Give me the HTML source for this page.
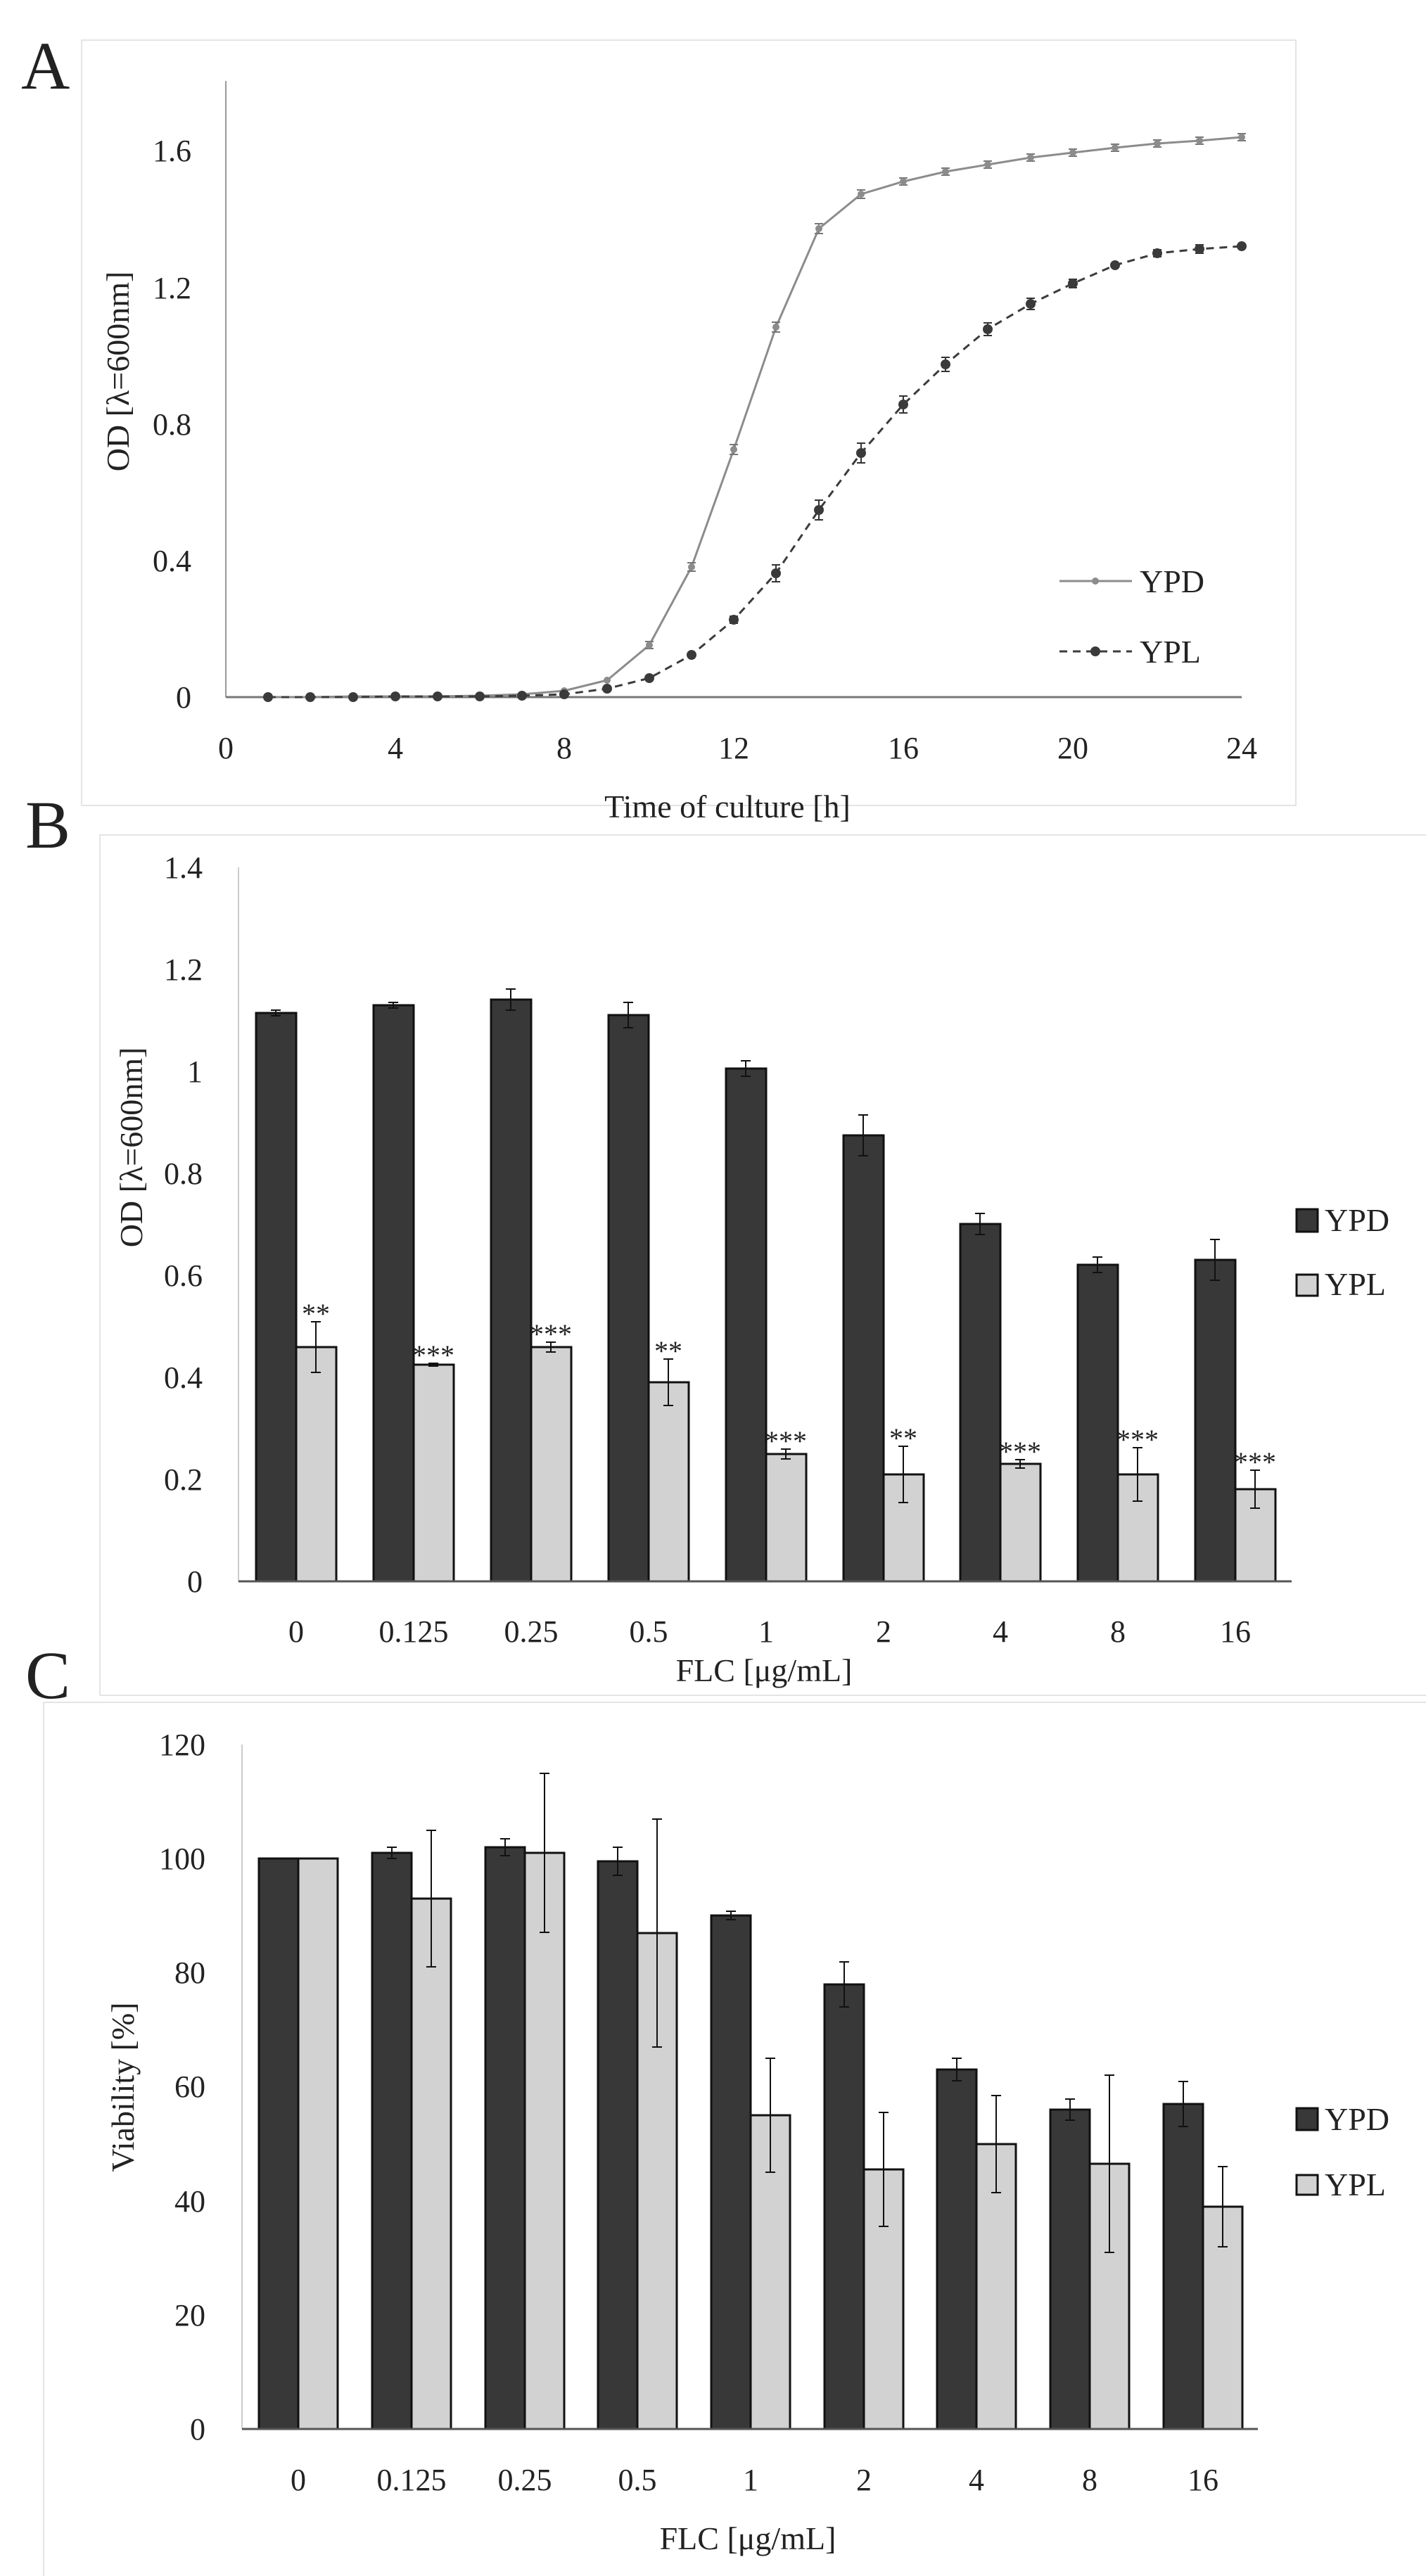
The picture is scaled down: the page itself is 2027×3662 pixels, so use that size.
<!DOCTYPE html>
<html><head><meta charset="utf-8"><style>
html,body{margin:0;padding:0;background:#fff;}
svg{display:block;}
text{font-family:"Liberation Serif",serif;fill:#222;}
</style></head><body>
<svg width="2027" height="3662" viewBox="0 0 2027 3662" xmlns="http://www.w3.org/2000/svg">
<rect width="2027" height="3662" fill="#fff"/>

<!-- ===== Panel A ===== -->
<rect x="116" y="57" width="1726" height="1088" fill="none" stroke="#e4e4e4" stroke-width="2"/>
<text x="30" y="126" font-size="96">A</text>
<line x1="321" y1="115" x2="321" y2="991" stroke="#999" stroke-width="2"/>
<line x1="321" y1="991" x2="1765" y2="991" stroke="#777" stroke-width="3"/>
<g font-size="44" text-anchor="end">
<text x="272" y="1006">0</text>
<text x="272" y="812">0.4</text>
<text x="272" y="618">0.8</text>
<text x="272" y="424">1.2</text>
<text x="272" y="229">1.6</text>
</g>
<g font-size="44" text-anchor="middle">
<text x="321" y="1078">0</text>
<text x="562" y="1078">4</text>
<text x="802" y="1078">8</text>
<text x="1043" y="1078">12</text>
<text x="1284" y="1078">16</text>
<text x="1525" y="1078">20</text>
<text x="1765" y="1078">24</text>
</g>
<text x="1034" y="1162" font-size="46" text-anchor="middle">Time of culture [h]</text>
<text transform="translate(183,528) rotate(-90)" font-size="46" text-anchor="middle">OD [λ=600nm]</text>

<!-- YPD -->
<polyline fill="none" stroke="#8c8c8c" stroke-width="3" points="381,991 441,991 502,990 562,990 622,990 682,989 742,987 802,982 863,967 923,917 983,806 1043,639 1103,465 1164,325 1224,276 1284,258 1344,244 1404,234 1465,224 1525,217 1585,210 1645,204 1705,200 1765,195"/>
<g stroke="#777" stroke-width="2">
<path d="M983,800v12M977,800h12M977,812h12 M1043,632v14M1037,632h12M1037,646h12 M1103,458v14M1097,458h12M1097,472h12 M1164,318v14M1158,318h12M1158,332h12 M1224,270v12M1218,270h12M1218,282h12 M1284,253v10M1278,253h12M1278,263h12 M1344,239v10M1338,239h12M1338,249h12 M1404,229v10M1398,229h12M1398,239h12 M1465,219v10M1459,219h12M1459,229h12 M1525,212v10M1519,212h12M1519,222h12 M1585,205v10M1579,205h12M1579,215h12 M1645,199v10M1639,199h12M1639,209h12 M1705,195v10M1699,195h12M1699,205h12 M1765,190v10M1759,190h12M1759,200h12 M923,912v10M917,912h12M917,922h12"/>
</g>
<g fill="#8c8c8c">
<circle cx="381" cy="991" r="5"/><circle cx="441" cy="991" r="5"/><circle cx="502" cy="990" r="5"/><circle cx="562" cy="990" r="5"/><circle cx="622" cy="990" r="5"/><circle cx="682" cy="989" r="5"/><circle cx="742" cy="987" r="5"/><circle cx="802" cy="982" r="5"/><circle cx="863" cy="967" r="5"/><circle cx="923" cy="917" r="5"/><circle cx="983" cy="806" r="5"/><circle cx="1043" cy="639" r="5"/><circle cx="1103" cy="465" r="5"/><circle cx="1164" cy="325" r="5"/><circle cx="1224" cy="276" r="5"/><circle cx="1284" cy="258" r="5"/><circle cx="1344" cy="244" r="5"/><circle cx="1404" cy="234" r="5"/><circle cx="1465" cy="224" r="5"/><circle cx="1525" cy="217" r="5"/><circle cx="1585" cy="210" r="5"/><circle cx="1645" cy="204" r="5"/><circle cx="1705" cy="200" r="5"/><circle cx="1765" cy="195" r="5"/>
</g>
<!-- YPL -->
<polyline fill="none" stroke="#3c3c3c" stroke-width="3" stroke-dasharray="11,8" points="381,991 441,991 502,991 562,990 622,990 682,990 742,989 802,987 863,979 923,964 983,931 1043,881 1103,815 1164,725 1224,644 1284,575 1344,518 1404,468 1465,432 1525,403 1585,377 1645,360 1705,354 1765,350"/>
<g stroke="#333" stroke-width="2">
<path d="M1103,803v24M1097,803h12M1097,827h12 M1164,711v28M1158,711h12M1158,739h12 M1224,630v28M1218,630h12M1218,658h12 M1284,563v24M1278,563h12M1278,587h12 M1344,508v20M1338,508h12M1338,528h12 M1404,459v18M1398,459h12M1398,477h12 M1465,424v16M1459,424h12M1459,440h12 M1525,397v12M1519,397h12M1519,409h12 M1645,355v10M1639,355h12M1639,365h12 M1705,348v12M1699,348h12M1699,360h12 M1043,876v10M1037,876h12M1037,886h12"/>
</g>
<g fill="#3a3a3a">
<circle cx="381" cy="991" r="7"/><circle cx="441" cy="991" r="7"/><circle cx="502" cy="991" r="7"/><circle cx="562" cy="990" r="7"/><circle cx="622" cy="990" r="7"/><circle cx="682" cy="990" r="7"/><circle cx="742" cy="989" r="7"/><circle cx="802" cy="987" r="7"/><circle cx="863" cy="979" r="7"/><circle cx="923" cy="964" r="7"/><circle cx="983" cy="931" r="7"/><circle cx="1043" cy="881" r="7"/><circle cx="1103" cy="815" r="7"/><circle cx="1164" cy="725" r="7"/><circle cx="1224" cy="644" r="7"/><circle cx="1284" cy="575" r="7"/><circle cx="1344" cy="518" r="7"/><circle cx="1404" cy="468" r="7"/><circle cx="1465" cy="432" r="7"/><circle cx="1525" cy="403" r="7"/><circle cx="1585" cy="377" r="7"/><circle cx="1645" cy="360" r="7"/><circle cx="1705" cy="354" r="7"/><circle cx="1765" cy="350" r="7"/>
</g>
<!-- legend A -->
<line x1="1506" y1="826" x2="1609" y2="826" stroke="#8c8c8c" stroke-width="3"/>
<circle cx="1557" cy="826" r="5" fill="#8c8c8c"/>
<text x="1620" y="842" font-size="46">YPD</text>
<line x1="1506" y1="926" x2="1609" y2="926" stroke="#3c3c3c" stroke-width="3" stroke-dasharray="11,8"/>
<circle cx="1557" cy="926" r="7" fill="#3a3a3a"/>
<text x="1620" y="942" font-size="46">YPL</text>

<!-- ===== Panel B ===== -->
<path d="M142,2410V1187H2027 M142,2410H2027" fill="none" stroke="#e4e4e4" stroke-width="2"/>
<text x="36" y="1205" font-size="96">B</text>
<line x1="339" y1="1233" x2="339" y2="2248" stroke="#ccc" stroke-width="2"/>
<g font-size="44" text-anchor="end">
<text x="288" y="2263">0</text>
<text x="288" y="2118">0.2</text>
<text x="288" y="1973">0.4</text>
<text x="288" y="1828">0.6</text>
<text x="288" y="1683">0.8</text>
<text x="288" y="1538">1</text>
<text x="288" y="1393">1.2</text>
<text x="288" y="1248">1.4</text>
</g>
<g fill="#383838" stroke="#111" stroke-width="3">
<rect x="364" y="1440" width="57" height="808"/>
<rect x="531" y="1429" width="57" height="819"/>
<rect x="698" y="1421" width="57" height="827"/>
<rect x="865" y="1443" width="57" height="805"/>
<rect x="1032" y="1519" width="57" height="729"/>
<rect x="1199" y="1614" width="57" height="634"/>
<rect x="1365" y="1740" width="57" height="508"/>
<rect x="1532" y="1798" width="57" height="450"/>
<rect x="1699" y="1791" width="57" height="457"/>
</g>
<g fill="#d2d2d2" stroke="#111" stroke-width="3">
<rect x="421" y="1915" width="57" height="333"/>
<rect x="588" y="1940" width="57" height="308"/>
<rect x="755" y="1915" width="57" height="333"/>
<rect x="922" y="1965" width="57" height="283"/>
<rect x="1089" y="2067" width="57" height="181"/>
<rect x="1256" y="2096" width="57" height="152"/>
<rect x="1422" y="2081" width="57" height="167"/>
<rect x="1589" y="2096" width="57" height="152"/>
<rect x="1756" y="2117" width="57" height="131"/>
</g>
<line x1="339" y1="2248" x2="1836" y2="2248" stroke="#555" stroke-width="3"/>
<g stroke="#111" stroke-width="2">
<path d="M392,1436v8M385,1436h14M385,1444h14 M559,1425v8M552,1425h14M552,1433h14 M726,1406v30M719,1406h14M719,1436h14 M893,1425v36M886,1425h14M886,1461h14 M1060,1508v22M1053,1508h14M1053,1530h14 M1227,1585v58M1220,1585h14M1220,1643h14 M1393,1725v30M1386,1725h14M1386,1755h14 M1560,1787v22M1553,1787h14M1553,1809h14 M1727,1762v58M1720,1762h14M1720,1820h14"/>
<path d="M449,1879v72M442,1879h14M442,1951h14 M616,1938v4M609,1938h14M609,1942h14 M783,1908v14M776,1908h14M776,1922h14 M950,1932v66M943,1932h14M943,1998h14 M1117,2060v14M1110,2060h14M1110,2074h14 M1284,2056v80M1277,2056h14M1277,2136h14 M1450,2075v12M1443,2075h14M1443,2087h14 M1617,2058v76M1610,2058h14M1610,2134h14 M1784,2090v54M1777,2090h14M1777,2144h14"/>
</g>
<g font-size="40" text-anchor="middle">
<text x="449" y="1881">**</text>
<text x="616" y="1940">***</text>
<text x="783" y="1910">***</text>
<text x="950" y="1934">**</text>
<text x="1117" y="2062">***</text>
<text x="1284" y="2058">**</text>
<text x="1450" y="2077">***</text>
<text x="1617" y="2060">***</text>
<text x="1784" y="2092">***</text>
</g>
<g font-size="44" text-anchor="middle">
<text x="421" y="2334">0</text>
<text x="588" y="2334">0.125</text>
<text x="755" y="2334">0.25</text>
<text x="922" y="2334">0.5</text>
<text x="1089" y="2334">1</text>
<text x="1256" y="2334">2</text>
<text x="1422" y="2334">4</text>
<text x="1589" y="2334">8</text>
<text x="1756" y="2334">16</text>
</g>
<text x="1086" y="2390" font-size="46" text-anchor="middle">FLC [μg/mL]</text>
<text transform="translate(202,1631) rotate(-90)" font-size="46" text-anchor="middle">OD [λ=600nm]</text>
<rect x="1843" y="1719" width="30" height="32" fill="#383838" stroke="#111" stroke-width="3"/>
<text x="1883" y="1750" font-size="46">YPD</text>
<rect x="1843" y="1812" width="30" height="30" fill="#d2d2d2" stroke="#111" stroke-width="3"/>
<text x="1883" y="1841" font-size="46">YPL</text>

<!-- ===== Panel C ===== -->
<path d="M62,3662V2420H2027" fill="none" stroke="#e4e4e4" stroke-width="2"/>
<text x="36" y="2414" font-size="96">C</text>
<line x1="344" y1="2480" x2="344" y2="3453" stroke="#ccc" stroke-width="2"/>
<g font-size="44" text-anchor="end">
<text x="292" y="3468">0</text>
<text x="292" y="3306">20</text>
<text x="292" y="3144">40</text>
<text x="292" y="2981">60</text>
<text x="292" y="2819">80</text>
<text x="292" y="2657">100</text>
<text x="292" y="2495">120</text>
</g>
<g fill="#383838" stroke="#111" stroke-width="3">
<rect x="368" y="2642" width="56" height="811"/>
<rect x="529" y="2634" width="56" height="819"/>
<rect x="690" y="2626" width="56" height="827"/>
<rect x="850" y="2646" width="56" height="807"/>
<rect x="1011" y="2723" width="56" height="730"/>
<rect x="1172" y="2821" width="56" height="632"/>
<rect x="1332" y="2942" width="56" height="511"/>
<rect x="1493" y="2999" width="56" height="454"/>
<rect x="1654" y="2991" width="56" height="462"/>
</g>
<g fill="#d2d2d2" stroke="#111" stroke-width="3">
<rect x="424" y="2642" width="56" height="811"/>
<rect x="585" y="2699" width="56" height="754"/>
<rect x="746" y="2634" width="56" height="819"/>
<rect x="906" y="2748" width="56" height="705"/>
<rect x="1067" y="3007" width="56" height="446"/>
<rect x="1228" y="3084" width="56" height="369"/>
<rect x="1388" y="3048" width="56" height="405"/>
<rect x="1549" y="3076" width="56" height="377"/>
<rect x="1710" y="3137" width="56" height="316"/>
</g>
<line x1="344" y1="3453" x2="1788" y2="3453" stroke="#555" stroke-width="3"/>
<g stroke="#111" stroke-width="2">
<path d="M557,2626v16M550,2626h14M550,2642h14 M718,2614v24M711,2614h14M711,2638h14 M878,2626v40M871,2626h14M871,2666h14 M1039,2717v12M1032,2717h14M1032,2729h14 M1200,2789v64M1193,2789h14M1193,2853h14 M1360,2926v32M1353,2926h14M1353,2958h14 M1521,2984v30M1514,2984h14M1514,3014h14 M1682,2959v64M1675,2959h14M1675,3023h14"/>
<path d="M613,2602v194M606,2602h14M606,2796h14 M774,2521v226M767,2521h14M767,2747h14 M934,2586v324M927,2586h14M927,2910h14 M1095,2926v162M1088,2926h14M1088,3088h14 M1256,3003v162M1249,3003h14M1249,3165h14 M1416,2979v138M1409,2979h14M1409,3117h14 M1577,2950v252M1570,2950h14M1570,3202h14 M1738,3080v114M1731,3080h14M1731,3194h14"/>
</g>
<g font-size="44" text-anchor="middle">
<text x="424" y="3540">0</text>
<text x="585" y="3540">0.125</text>
<text x="746" y="3540">0.25</text>
<text x="906" y="3540">0.5</text>
<text x="1067" y="3540">1</text>
<text x="1228" y="3540">2</text>
<text x="1388" y="3540">4</text>
<text x="1549" y="3540">8</text>
<text x="1710" y="3540">16</text>
</g>
<text x="1063" y="3624" font-size="46" text-anchor="middle">FLC [μg/mL]</text>
<text transform="translate(190,2967) rotate(-90)" font-size="46" text-anchor="middle">Viability [%]</text>
<rect x="1843" y="2997" width="30" height="31" fill="#383838" stroke="#111" stroke-width="3"/>
<text x="1883" y="3028" font-size="46">YPD</text>
<rect x="1843" y="3092" width="30" height="28" fill="#d2d2d2" stroke="#111" stroke-width="3"/>
<text x="1883" y="3121" font-size="46">YPL</text>
</svg>
</body></html>
